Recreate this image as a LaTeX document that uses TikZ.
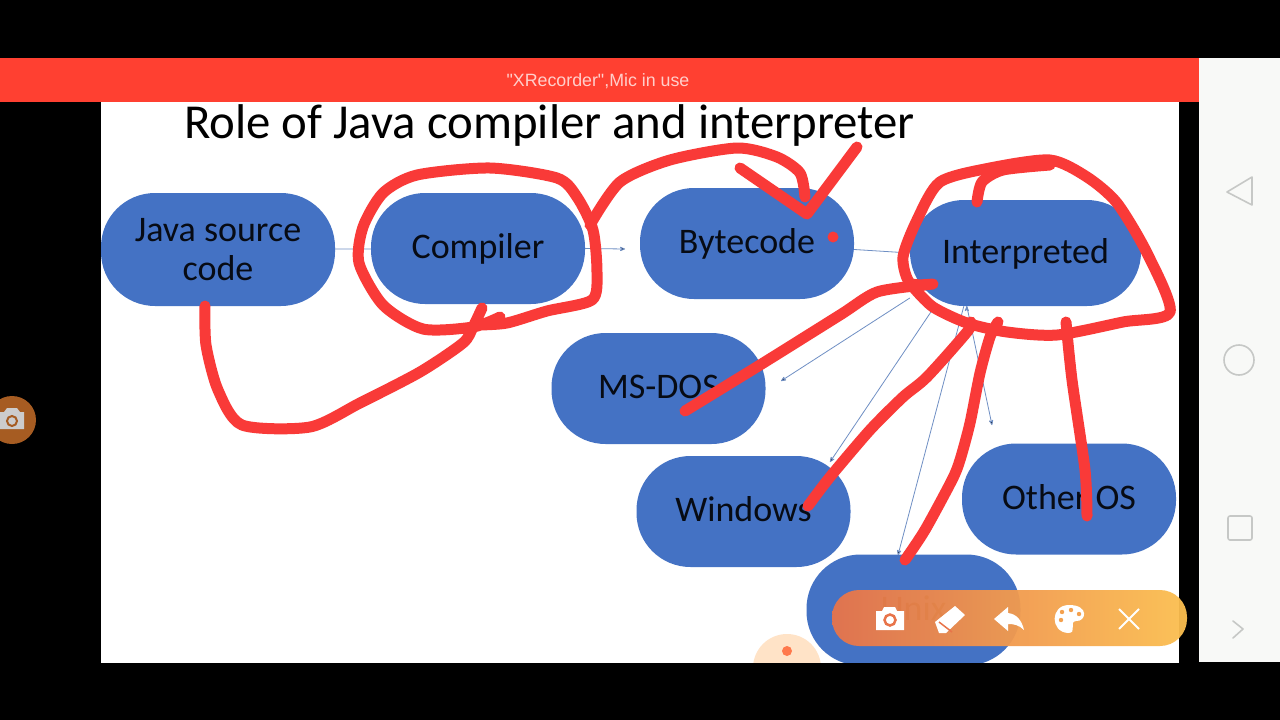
\documentclass[tikz,border=0pt]{standalone}
\usepackage{fontspec}
\setmainfont{Carlito}
\newfontfamily\recfont{Liberation Sans}
\usetikzlibrary{arrows}

\definecolor{nodeblue}{HTML}{4472C4}
\definecolor{linkblue}{HTML}{6F8FC4}
\definecolor{penred}{HTML}{F93A38}
\definecolor{barred}{HTML}{FF4031}
\definecolor{navgrey}{HTML}{C6C8C6}
\definecolor{stripgrey}{HTML}{F8F9F7}
\definecolor{barleft}{HTML}{E8744A}
\definecolor{barright}{HTML}{FBBF50}
\definecolor{camorange}{HTML}{A65C22}

\begin{document}
\begin{tikzpicture}[x=1pt,y=-1pt,->,>=stealth',auto,
			main node/.style={rectangle,rounded corners=54pt,fill=nodeblue,draw=none,
				minimum width=214pt,minimum height=111pt,align=center,text=black!90!nodeblue,
				text height=26pt,text depth=6pt,font=\fontsize{36}{39}\selectfont},
			pen/.style={-,draw=penred,line width=11pt,line cap=round,line join=round},
			link/.style={draw=linkblue,line width=.8pt},
			nav/.style={-,draw=navgrey,line width=1.6pt,line join=round,line cap=round},
			icon/.style={-,fill=white,draw=none}]
			\useasboundingbox (0,0) rectangle (1280,720);
			
			\fill[black] (0,0) rectangle (1280,720);
			\fill[white] (101,102) rectangle (1179,663);
			\fill[barred] (0,58) rectangle (1199,102);
			\fill[stripgrey] (1199,58) rectangle (1280,662);
			
			\node (recbar) at (598,81) {\textcolor{white!75!barred}{\recfont\fontsize{17.8}{20}\selectfont "XRecorder",Mic in use}};
			\node (title) at (549.5,125) {\fontsize{48.8}{52}\selectfont Role of Java compiler and interpreter};
			
			\node[main node,minimum width=234pt,minimum height=113pt,text height=,text depth=] (java) at (218,249.5) {Java source\\code};
			\node[main node] (compiler) at (478,248.5) {Compiler};
			\node[main node] (bytecode) at (747,243.5) {Bytecode};
			\node[main node,minimum width=231pt,minimum height=106pt] (interpreted) at (1025.5,253) {Interpreted};
			\node[main node] (msdos) at (658.5,388.5) {MS-DOS};
			\node[main node] (windows) at (743.5,511.5) {Windows};
			\node[main node] (otheros) at (1069,499) {Other OS};
			\node[main node] (unix) at (913.5,610) {Unix};
			
			\coordinate (afterjava) at (625,249);
			\coordinate (toms) at (781,381);
			\coordinate (towin) at (830,462);
			\coordinate (tounix) at (898,555);
			\coordinate (toother) at (992,425);
			
			\path[link]
			(java) [-] edge (compiler)
			([yshift=-6pt]bytecode.east) edge (interpreted.west)
			(compiler.east) [->] edge (afterjava)
			([yshift=-45pt]interpreted.west) edge (toms)
			([xshift=25pt]interpreted.south west) edge (towin)
			([xshift=54pt]interpreted.south west) edge (tounix)
			([xshift=57pt]interpreted.south west) edge (toother);
			
			% pen strokes
			\draw[pen] plot[smooth,tension=.45] coordinates {(205,306) (206,345) (218,390) (242,425) (310,427) (360,403) (420,372) (463,343) (473,327) (482,308)};
			\draw[pen] plot[smooth,tension=.45] coordinates {(500,317) (473,327) (423,329) (383,305) (359,263) (363,227) (383,193) (417,175) (490,168) (557,178) (577,197) (593,230) (597,273) (592,300) (547,311) (507,323) (478,325)};
			\draw[pen] plot[smooth,tension=.45] coordinates {(590,225) (620,182) (670,160) (737,148) (777,157) (800,173) (805,197)};
			\draw[pen] (740,168) -- (807,214) -- (857,147);
			\fill[penred] (833,237) circle (5.5pt);
			
			\draw[pen] plot[smooth,tension=.45] coordinates {(933,284) (910,283) (903,257) (917,220) (940,182) (990,168) (1050,160) (1087,177) (1117,203) (1147,253) (1170,312) (1123,322) (1057,335) (1007,332) (967,323) (933,307) (913,287)};
			\draw[pen] plot[smooth,tension=.45] coordinates {(977,202) (982,182) (1003,170) (1050,165)};
			\draw[pen] plot[smooth,tension=.45] coordinates {(685,411) (760,365) (840,315) (877,292) (925,285)};
			\draw[pen] plot[smooth,tension=.45] coordinates {(808,506) (830,477) (870,430) (903,397) (927,377) (967,332) (971,322)};
			\draw[pen] plot[smooth,tension=.45] coordinates {(905,560) (925,530) (952,480) (960,460) (970,423) (980,373) (990,337) (998,322)};
			\draw[pen] plot[smooth,tension=.45] coordinates {(1066,322) (1072,380) (1085,470) (1087,516)};
			
			% floating button, cut by the frame
			\fill[orange!22!white] (787,668) circle (34pt);
			\fill[red!50!orange!70!white] (787,651) circle (5pt);
			\fill[black] (0,663) rectangle (1280,720);
			
			% toolbar
			\path[-,rounded corners=27pt,left color=barleft,right color=barright,fill opacity=.95] (832,590) rectangle (1187,646);
			\fill[icon] (876,611) -- (882,611) -- (884,607) -- (895,607) -- (897,611) -- (904,611) -- (904,630) -- (876,630) -- cycle;
			\draw[-,draw=barleft,line width=2.5pt] (890,620) circle (5.5pt);
			\fill[icon] (935,622) -- (955,606) -- (965,615) -- (946,633) -- (939,633) -- cycle;
			\draw[-,draw=barleft,line width=1.5pt] (939,622) -- (952,632);
			\fill[icon] (994,619) -- (1008,607) -- (1008,613) .. controls (1017,614) and (1022,621) .. (1024,630) .. controls (1019,625) and (1014,624) .. (1008,624) -- (1008,631) -- cycle;
			\fill[icon] (1069,605) .. controls (1090,605) and (1086,622) .. (1076,621) .. controls (1068,622) and (1078,633) .. (1068,633) .. controls (1050,632) and (1050,605) .. (1069,605) -- cycle;
			\foreach \dotx/\doty in {1062/612,1071/610,1079/614,1061/620}
				\fill[barright!60!barleft] (\dotx,\doty) circle (2.2pt);
			\draw[-,draw=white,line width=2pt] (1119,609) -- (1139,629) (1139,609) -- (1119,629);
			
			% left camera button
			\fill[camorange] (12,420) circle (24pt);
			\fill[white!80!black] (0,412) -- (4,412) -- (7,408) -- (17,408) -- (20,412) -- (24,412) -- (24,429) -- (0,429) -- cycle;
			\draw[-,draw=camorange,line width=2pt] (12,421) circle (5pt);
			
			% navigation bar
			\draw[nav] (1227,192) -- (1252,177) -- (1252,205) -- cycle;
			\draw[nav] (1239,360) circle (15pt);
			\draw[nav,rounded corners=2pt] (1228,516) rectangle (1252,540);
			\draw[nav] (1233,621) -- (1243,629) -- (1233,638);
		\end{tikzpicture}
\end{document}
